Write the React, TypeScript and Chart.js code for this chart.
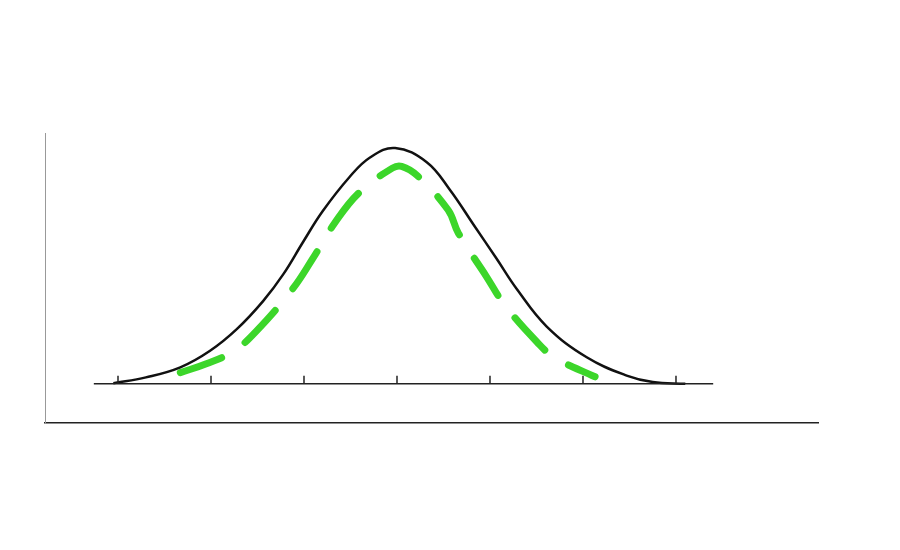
import { useEffect, useRef } from 'react';
import { Chart, registerables } from 'chart.js';

Chart.register(...registerables);

// black bell curve (x in tick units, y height)
const curveX = [-3.05, -2.7, -2.33, -2.01, -1.72, -1.44, -1.22, -1.01, -0.8, -0.51, -0.29, -0.02, 0.32, 0.57, 0.82, 1.07, 1.29, 1.61, 2.04, 2.47, 2.75, 3.1];
const curveY = [0.001, 0.011, 0.028, 0.056, 0.093, 0.14, 0.186, 0.24, 0.292, 0.35, 0.383, 0.399, 0.375, 0.328, 0.27, 0.212, 0.16, 0.097, 0.045, 0.014, 0.003, 0.0];

// green dashed curve
const greenX = [-2.33, -2.05, -1.76, -1.52, -1.12, -0.91, -0.67, -0.41, -0.05, 0.05, 0.22, 0.55, 0.66, 0.96, 1.16, 1.51, 1.7, 2.13];
const greenY = [0.019, 0.034, 0.055, 0.088, 0.161, 0.211, 0.272, 0.323, 0.365, 0.368, 0.352, 0.294, 0.255, 0.182, 0.133, 0.07, 0.044, 0.012];

// inner baseline and its tick marks
const baseX = [-3.26, 3.4];
const tickValues = [-3, -2, -1, 0, 1, 2, 3];

const toPoints = (xs: number[], ys: number[]) => xs.map((x, i) => ({ x, y: ys[i] }));

const tickPlugin = {
  id: 'baseTicks',
  afterDatasetsDraw(chart: Chart) {
    const { ctx, scales } = chart;
    const y0 = scales.y.getPixelForValue(0);
    ctx.save();
    ctx.strokeStyle = '#222';
    ctx.lineWidth = 1.5;
    tickValues.forEach(v => {
      const px = scales.x.getPixelForValue(v);
      ctx.beginPath();
      ctx.moveTo(px, y0);
      ctx.lineTo(px, y0 - 8);
      ctx.stroke();
    });
    ctx.restore();
  },
};

export default function App() {
  const chartRef = useRef<HTMLCanvasElement>(null);
  const chartInstance = useRef<Chart | null>(null);

  useEffect(() => {
    if (!chartRef.current) return;
    if (chartInstance.current) chartInstance.current.destroy();

    chartInstance.current = new Chart(chartRef.current, {
      type: 'line',
      data: {
        datasets: [
          {
            data: toPoints(baseX, [0, 0]),
            borderColor: '#222',
            borderWidth: 1.5,
            pointRadius: 0,
          },
          {
            data: toPoints(curveX, curveY),
            borderColor: '#111',
            borderWidth: 2.5,
            pointRadius: 0,
            tension: 0.4,
          },
          {
            data: toPoints(greenX, greenY),
            borderColor: '#3cd62a',
            borderWidth: 7,
            borderDash: [44, 28],
            borderCapStyle: 'round',
            pointRadius: 0,
            tension: 0.4,
          },
        ],
      },
      options: {
        animation: false,
        responsive: false,
        layout: { padding: { left: 37, right: 82, top: 133, bottom: 119 } },
        plugins: { legend: { display: false }, tooltip: { enabled: false } },
        scales: {
          x: {
            type: 'linear',
            min: -3.785,
            max: 4.527,
            grid: { display: false },
            ticks: { display: false },
            border: { color: '#222', width: 1.5 },
          },
          y: {
            min: -0.0662,
            max: 0.4244,
            grid: { display: false },
            ticks: { display: false },
            border: { color: '#999', width: 1 },
          },
        },
      },
      plugins: [tickPlugin],
    });

    return () => {
      if (chartInstance.current) {
        chartInstance.current.destroy();
        chartInstance.current = null;
      }
    };
  }, []);

  return (
    <div style={{ position: 'absolute', left: 0, top: 0, width: 900, height: 550, background: '#fff' }}>
      <canvas ref={chartRef} width={900} height={550} />
    </div>
  );
}
